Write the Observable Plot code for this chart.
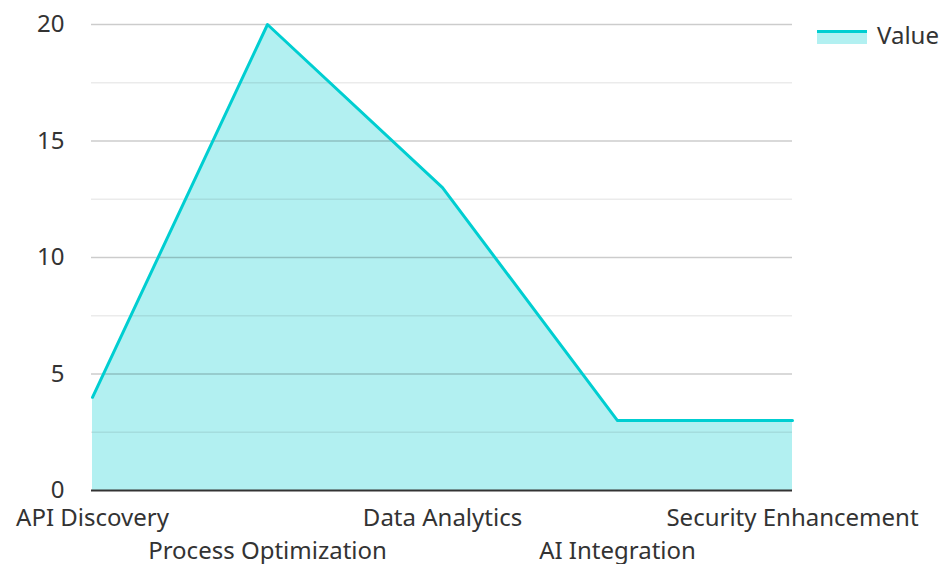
<!DOCTYPE html>
<html>
<head>
<meta charset="utf-8">
<script src="https://cdn.jsdelivr.net/npm/d3@7"></script>
<script src="https://cdn.jsdelivr.net/npm/@observablehq/plot@0.6"></script>
<style>
  html, body { margin: 0; padding: 0; background: #fff; }
  #wrap { position: relative; width: 941px; height: 564px; font-family: "Noto Sans", sans-serif; }
  #legend { position: absolute; left: 817px; top: 18px; display: flex; align-items: center; color: #333; font-size: 24px; }
  #legend .sw { width: 50px; height: 14px; background: rgba(0,206,209,0.3); border-top: 3px solid #00CED1; box-sizing: border-box; margin-right: 10px; margin-top: 4px; }
</style>
</head>
<body>
<div id="wrap">
  <div id="chart"></div>
  <div id="legend"><div class="sw"></div><span>Value</span></div>
</div>
<script>
const categories = ["API Discovery", "Process Optimization", "Data Analytics", "AI Integration", "Security Enhancement"];
const values = [4, 20, 13, 3, 3];
const majorTicks = [0, 5, 10, 15, 20];
const minorTicks = [2.5, 7.5, 12.5, 17.5];

const data = categories.map((c, i) => ({category: c, value: values[i], i}));
const color = "#00CED1";

const chart = Plot.plot({
  width: 941,
  height: 564,
  marginLeft: 91,
  marginRight: 149,
  marginTop: 24,
  marginBottom: 74,
  style: {fontFamily: "Noto Sans, sans-serif", fontSize: "24px", color: "#333", background: "#fff", overflow: "visible"},
  x: {type: "point", domain: categories, padding: 0, axis: null},
  y: {domain: [0, 20], ticks: majorTicks, axis: null},
  marks: [
    Plot.areaY(data, {x: "category", y: "value", fill: color, fillOpacity: 0.3, curve: "linear"}),
    Plot.ruleY(minorTicks, {stroke: "#000", strokeOpacity: 0.08, strokeWidth: 1.5}),
    Plot.ruleY(majorTicks.filter(d => d > 0), {stroke: "#000", strokeOpacity: 0.2, strokeWidth: 1.5}),
    Plot.lineY(data, {x: "category", y: "value", stroke: color, strokeWidth: 3, curve: "linear"}),
    Plot.ruleY([0], {stroke: "#333", strokeWidth: 2}),
    Plot.axisY(majorTicks, {tickSize: 0, tickPadding: 27, fontSize: 24, fill: "#333", label: null}),
    Plot.text(data, {x: "category", y: 0, text: "category", fill: "#333", fontSize: 24,
      filter: d => d.i % 2 === 0, dy: 28}),
    Plot.text(data, {x: "category", y: 0, text: "category", fill: "#333", fontSize: 24,
      filter: d => d.i % 2 === 1, dy: 61})
  ]
});
document.getElementById("chart").appendChild(chart);
</script>
</body>
</html>
